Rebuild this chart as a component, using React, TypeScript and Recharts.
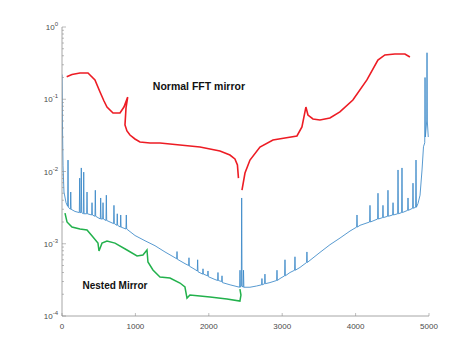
import { LineChart, Line, XAxis, YAxis, ReferenceDot } from 'recharts'

// blue spectrum, [index, magnitude] (spikes as base/peak/base)
const spectrum: [number, number][] = [
  [0, 0.22], [7, 0.04], [14, 0.012], [27, 0.0052], [55, 0.0037],
  [77, 0.0033], [82, 0.0144], [87, 0.0032],
  [114, 0.003], [119, 0.0052], [124, 0.003],
  [177, 0.0028],
  [236, 0.0027], [241, 0.0081], [246, 0.0027],
  [258, 0.0027], [263, 0.0112], [268, 0.0027],
  [291, 0.0026], [296, 0.0098], [301, 0.0026],
  [336, 0.0026], [341, 0.0052], [346, 0.0026],
  [404, 0.0025], [409, 0.0037], [414, 0.0025],
  [449, 0.0024], [454, 0.0055], [459, 0.0024],
  [522, 0.0022], [527, 0.0043], [532, 0.0022],
  [554, 0.0022], [559, 0.0037], [564, 0.0022],
  [599, 0.0021], [604, 0.0047], [609, 0.0021],
  [703, 0.0019], [708, 0.0034], [713, 0.0019],
  [748, 0.0018], [753, 0.0026], [758, 0.0018],
  [795, 0.0017], [800, 0.0025], [805, 0.0017],
  [871, 0.0016], [876, 0.0025], [881, 0.0016],
  [995, 0.0013], [1131, 0.0011], [1267, 0.00094], [1403, 0.00077], [1540, 0.00064],
  [1562, 0.00062], [1567, 0.00078], [1572, 0.00061],
  [1676, 0.00053],
  [1725, 0.0005], [1730, 0.00064], [1735, 0.00049],
  [1812, 0.00044],
  [1843, 0.00042], [1848, 0.0006], [1853, 0.00041],
  [1916, 0.00038], [1921, 0.00045], [1926, 0.00038],
  [1984, 0.00036], [1989, 0.00042], [1994, 0.00035],
  [2084, 0.00032],
  [2120, 0.00031], [2125, 0.0004], [2130, 0.00031],
  [2175, 0.0003], [2180, 0.00036], [2185, 0.00029],
  [2290, 0.00027],
  [2420, 0.00025], [2425, 0.00043], [2430, 0.00025],
  [2443, 0.00026], [2448, 0.0043], [2453, 0.00026],
  [2468, 0.00025], [2473, 0.00043], [2478, 0.00025],
  [2561, 0.00025], [2650, 0.00026],
  [2719, 0.00027], [2724, 0.00033], [2729, 0.00027],
  [2760, 0.00028], [2765, 0.00038], [2770, 0.00028],
  [2833, 0.00029],
  [2924, 0.00031], [2929, 0.00043], [2934, 0.00031],
  [2970, 0.00033],
  [3033, 0.00036], [3038, 0.0006], [3043, 0.00036],
  [3106, 0.0004],
  [3169, 0.00043], [3174, 0.00066], [3179, 0.00043],
  [3242, 0.00047],
  [3332, 0.00055], [3337, 0.00077], [3342, 0.00055],
  [3379, 0.00059], [3515, 0.00076], [3651, 0.00097], [3788, 0.0012], [3924, 0.0015],
  [4014, 0.0017], [4019, 0.0025], [4024, 0.0017],
  [4060, 0.0018],
  [4191, 0.002], [4196, 0.0034], [4201, 0.002],
  [4300, 0.0022], [4305, 0.005], [4310, 0.0022],
  [4368, 0.0023], [4373, 0.0034], [4378, 0.0023],
  [4436, 0.0024], [4441, 0.0055], [4446, 0.0024],
  [4505, 0.0025], [4510, 0.0037], [4515, 0.0025],
  [4573, 0.0026], [4578, 0.0105], [4583, 0.0026],
  [4627, 0.0027], [4632, 0.0112], [4637, 0.0027],
  [4709, 0.0029], [4714, 0.0043], [4719, 0.0029],
  [4777, 0.0031], [4782, 0.0069], [4787, 0.0031],
  [4818, 0.0032], [4823, 0.0144], [4828, 0.0032],
  [4850, 0.0036], [4878, 0.0047], [4905, 0.0105], [4925, 0.022],
  [4942, 0.025], [4946, 0.2], [4950, 0.03],
  [4969, 0.05], [4973, 0.44], [4977, 0.05], [4990, 0.03],
]

// hand drawn red annotation, two strokes
const redLeft: [number, number][] = [
  [64, 0.205], [136, 0.22], [245, 0.231], [354, 0.231], [449, 0.185], [518, 0.126],
  [572, 0.0946], [613, 0.078], [695, 0.0645], [790, 0.0645], [844, 0.078], [895, 0.107],
  [872, 0.0757], [858, 0.044], [885, 0.0364], [926, 0.032], [994, 0.0282], [1062, 0.0256],
  [1199, 0.0248], [1335, 0.0248], [1607, 0.0233], [1880, 0.0218], [2152, 0.0192],
  [2288, 0.0169], [2356, 0.0149], [2390, 0.0123], [2404, 0.0081],
]
const redRight: [number, number][] = [
  [2452, 0.00554], [2493, 0.00953], [2561, 0.0144], [2697, 0.0218], [2874, 0.0273],
  [3037, 0.0291], [3201, 0.031], [3269, 0.0413], [3323, 0.078], [3351, 0.0605],
  [3419, 0.0533], [3514, 0.0516], [3650, 0.055], [3786, 0.0667], [3963, 0.0977],
  [4154, 0.185], [4304, 0.349], [4399, 0.41], [4535, 0.423], [4672, 0.423], [4740, 0.384],
]

// hand drawn green annotation
const green: [number, number][] = [
  [41, 0.00266], [68, 0.002], [136, 0.0017], [245, 0.0016], [341, 0.00155], [422, 0.00124],
  [490, 0.00102], [504, 0.000794], [545, 0.00102], [613, 0.00109], [722, 0.00102],
  [885, 0.000819], [1022, 0.000677], [1103, 0.000698], [1158, 0.000819], [1171, 0.000559],
  [1239, 0.000433], [1335, 0.000347], [1471, 0.000336], [1607, 0.000286], [1675, 0.000252],
  [1703, 0.000177], [1743, 0.000195], [1880, 0.000189], [2016, 0.000183], [2247, 0.000172],
  [2424, 0.000161], [2438, 0.000195], [2424, 0.000236],
]

const xTicks = [0, 1000, 2000, 3000, 4000, 5000]
const yMajor = [1e-4, 1e-3, 1e-2, 1e-1, 1]
const yMinor = [-4, -3, -2, -1].flatMap(e => [2, 3, 4, 5, 6, 7, 8, 9].map(k => k * Math.pow(10, e)))
const yTicks = [...yMajor, ...yMinor]

const AXIS = '#8f8f8f'
const LABEL = '#4a4a4a'
const FONT = '"Liberation Sans", Arial, sans-serif'

const toPts = (a: [number, number][]) => a.map(([x, y]) => ({ x, y }))

const isMajor = (v: number) => Math.abs(Math.log10(v) - Math.round(Math.log10(v))) < 1e-6

function LeftTick({ x, y, payload }: any) {
  const v = payload.value
  const major = isMajor(v)
  return (
    <g>
      <line x1={x} x2={x + (major ? 4 : 2)} y1={y} y2={y} stroke={AXIS} strokeWidth={0.6} />
      {major && (
        <text x={x - 4} y={y + 3} textAnchor="end" fontSize={8} fill={LABEL} fontFamily={FONT}>
          10<tspan dy={-4} fontSize={6}>{Math.round(Math.log10(v))}</tspan>
        </text>
      )}
    </g>
  )
}

function RightTick({ x, y, payload }: any) {
  const major = isMajor(payload.value)
  return <line x1={x} x2={x - (major ? 4 : 2)} y1={y} y2={y} stroke={AXIS} strokeWidth={0.6} />
}

function BottomTick({ x, y, payload }: any) {
  return (
    <g>
      <line x1={x} x2={x} y1={y} y2={y - 3} stroke={AXIS} strokeWidth={0.6} />
      <text x={x} y={y + 13} textAnchor="middle" fontSize={8} fill={LABEL} fontFamily={FONT}>
        {payload.value}
      </text>
    </g>
  )
}

function TopTick({ x, y }: any) {
  return <line x1={x} x2={x} y1={y} y2={y + 3} stroke={AXIS} strokeWidth={0.6} />
}

export default function App() {
  return (
    <div style={{ position: 'absolute', left: 0, top: 0, background: '#fff' }}>
      <LineChart width={474} height={355} margin={{ top: 27, right: 45, bottom: 9, left: 0 }}>
        <XAxis xAxisId="b" dataKey="x" type="number" domain={[0, 5000]} ticks={xTicks}
          allowDataOverflow interval={0} height={30} tickSize={0} tickMargin={0}
          axisLine={{ stroke: AXIS, strokeWidth: 0.8 }} tickLine={false} tick={<BottomTick />} />
        <XAxis xAxisId="t" orientation="top" type="number" domain={[0, 5000]} ticks={xTicks}
          allowDataOverflow interval={0} height={0} tickSize={0} tickMargin={0}
          axisLine={{ stroke: AXIS, strokeWidth: 0.8 }} tickLine={false} tick={<TopTick />} />
        <YAxis yAxisId="l" dataKey="y" type="number" scale="log" domain={[1e-4, 1]} ticks={yTicks}
          allowDataOverflow interval={0} width={62} tickSize={0} tickMargin={0}
          axisLine={{ stroke: AXIS, strokeWidth: 0.8 }} tickLine={false} tick={<LeftTick />} />
        <YAxis yAxisId="r" orientation="right" type="number" scale="log" domain={[1e-4, 1]} ticks={yTicks}
          allowDataOverflow interval={0} width={0} tickSize={0} tickMargin={0}
          axisLine={{ stroke: AXIS, strokeWidth: 0.8 }} tickLine={false} tick={<RightTick />} />

        <Line xAxisId="b" yAxisId="l" data={toPts(spectrum)} dataKey="y" type="linear"
          stroke="#3a88c8" strokeWidth={0.85} dot={false} isAnimationActive={false} />
        <Line xAxisId="b" yAxisId="l" data={toPts(redLeft)} dataKey="y" type="linear"
          stroke="#ed1c24" strokeWidth={1.6} dot={false} isAnimationActive={false} />
        <Line xAxisId="b" yAxisId="l" data={toPts(redRight)} dataKey="y" type="linear"
          stroke="#ed1c24" strokeWidth={1.6} dot={false} isAnimationActive={false} />
        <Line xAxisId="b" yAxisId="l" data={toPts(green)} dataKey="y" type="linear"
          stroke="#22b14c" strokeWidth={1.5} dot={false} isAnimationActive={false} />

        <ReferenceDot xAxisId="b" yAxisId="l" x={1866} y={0.15} r={0} stroke="none" fill="none"
          label={{ value: 'Normal FFT mirror', position: 'center', fill: '#111', fontSize: 10.5, fontWeight: 'bold', fontFamily: FONT }} />
        <ReferenceDot xAxisId="b" yAxisId="l" x={722} y={0.000269} r={0} stroke="none" fill="none"
          label={{ value: 'Nested Mirror', position: 'center', fill: '#111', fontSize: 10, fontWeight: 'bold', fontFamily: FONT }} />
      </LineChart>
    </div>
  )
}
